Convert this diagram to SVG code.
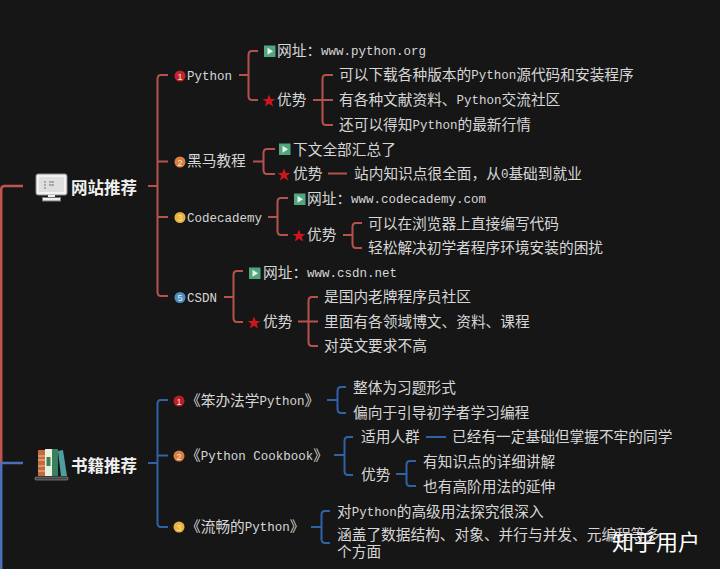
<svg xmlns="http://www.w3.org/2000/svg" width="720" height="569" viewBox="0 0 720 569">
<style>
text{font-family:"Liberation Mono","Noto Sans CJK SC",monospace;font-size:14.7px;fill:#d6d6d6;dominant-baseline:central;transform:translateY(1px)}
.l{font-size:12.5px}
.h{font-family:"Noto Sans CJK SC",sans-serif;font-size:16.5px;font-weight:700;fill:#f0f0f0}
.n{font-family:"Liberation Sans",sans-serif;font-size:9px;text-anchor:middle;fill:#f4e4d4;transform:none}
.w{font-family:"Noto Sans CJK SC",sans-serif;font-size:22px;fill:#fff;transform:none}
.r,.b,.tr,.tb{fill:none;stroke-width:2}
.r{stroke:#b5524d}.b{stroke:#2f63a8}
.tr{stroke:#c2544f;stroke-width:2.500}.tb{stroke:#4a70b8;stroke-width:2.500}
.sq{fill:#4fa67f}.tri{fill:#e8f4ea}.star{fill:#cc161c}
</style>
<defs>
<g id="link"><rect class="sq" x="0" y="0" width="11.500" height="11.500"/><path class="tri" d="M3.500 2.200L9 5.800L3.500 9.300Z"/></g>
<path id="st" class="star" d="M0-6.500L1.800-2.100H6.500L2.700 .8L4.200 5.600L0 2.800L-4.200 5.600L-2.700 .8L-6.500-2.100H-1.800Z"/>
</defs>
<rect width="720" height="569" fill="#161616"/>
<g id="connectors">
<path class="tr" d="M23 186H4Q1.200 186 1.200 190V463"/>
<path class="tb" d="M1.200 463V569M1.200 463H23" />
<path class="r" d="M148 186H157M168 75H161Q157.500 75 157.500 79V292Q157.500 296 161 296H168M157.500 161.500H168M157.500 217H168"/>
<path class="r" d="M239 75H248M258 51H252Q248.500 51 248.500 55V96Q248.500 100 252 100H258"/>
<path class="r" d="M313 100H333M333 75H326Q322.500 75 322.500 79V121Q322.500 125 326 125H333"/>
<path class="r" d="M253 161.500H263M275 149H267Q263.500 149 263.500 153V170Q263.500 174 267 174H275"/>
<path class="r" d="M328 173.500H347"/>
<path class="r" d="M268 217H277M288 198H281Q277.500 198 277.500 202V231Q277.500 235 281 235H288"/>
<path class="r" d="M343 235H352M362 223H356Q352.500 223 352.500 227V244Q352.500 248 356 248H362"/>
<path class="r" d="M224 297H233M243 271H237Q233.500 271 233.500 275V318Q233.500 322 237 322H243"/>
<path class="r" d="M298 321.500H318M318 297H312Q308.500 297 308.500 301V342Q308.500 346 312 346H318"/>
<path class="b" d="M148 463H157M168 400H161Q157.500 400 157.500 404V523Q157.500 527 161 527H168M157.500 455.500H168"/>
<path class="b" d="M327 400H337M346 387H341Q337.500 387 337.500 391V409Q337.500 413 341 413H346"/>
<path class="b" d="M334 455H344M353 437H348Q344.500 437 344.500 441V471Q344.500 475 348 475H353"/>
<path class="b" d="M426 437H446"/>
<path class="b" d="M396 474H406M416 461H410Q406.500 461 406.500 465V482Q406.500 486 410 486H416"/>
<path class="b" d="M311 527H321M330 511H325Q321.500 511 321.500 515V539Q321.500 543 325 543H330"/>
</g>
<g id="n-site">
<rect x="36" y="174" width="31" height="21" rx="2" fill="#f2f2f2" stroke="#8a8a8a"/>
<rect x="39" y="177" width="25" height="15" fill="#dedede"/>
<path d="M44 182h2M44 185h2M44 188h2M49 182h5M49 185h5" stroke="#777" stroke-width="1"/>
<rect x="48" y="195" width="7" height="3" fill="#eee"/>
<rect x="42.500" y="197.500" width="18" height="3.500" fill="#eee" stroke="#777"/>
<text class="h" x="71" y="186">网站推荐</text>
</g>
<g id="n-books">
<rect x="35" y="477" width="33" height="3" rx="1" fill="#444" stroke="#999" stroke-width=".6"/>
<rect x="38" y="450" width="7" height="26" fill="#c56a3e"/>
<path d="M38 456h7M38 460h7M38 466h7M38 471h7" stroke="#e8c59a"/>
<rect x="45" y="449" width="7" height="27" fill="#e9f1df"/>
<rect x="46.500" y="457" width="4" height="9" fill="#3e7f57"/>
<rect x="52" y="449" width="6" height="27" fill="#3a7f5e"/>
<path d="M58 451L63 450L67 476L61 476Z" fill="#4f9ea0"/>
<text class="h" x="71" y="464">书籍推荐</text>
</g>
<g id="n-python"><circle cx="180" cy="76" r="5.500" fill="#c4232b"/><text class="n" x="180" y="76.500">1</text><text class="l" x="187" y="75.500">Python</text></g>
<g id="n-python-url"><use href="#link" x="264" y="45.500"/><text x="277" y="51">网址：<tspan class="l">www.python.org</tspan></text></g>
<g id="n-python-adv"><use href="#st" x="269" y="101"/><text x="277" y="100">优势</text></g>
<g id="n-python-a"><text x="339" y="75">可以下载各种版本的<tspan class="l">Python</tspan>源代码和安装程序</text></g>
<g id="n-python-b"><text x="339" y="100">有各种文献资料、<tspan class="l">Python</tspan>交流社区</text></g>
<g id="n-python-c"><text x="339" y="125">还可以得知<tspan class="l">Python</tspan>的最新行情</text></g>
<g id="n-heima"><circle cx="180" cy="162" r="5.500" fill="#d9803f"/><text class="n" x="180" y="162.500">2</text><text x="187" y="161">黑马教程</text></g>
<g id="n-heima-url"><use href="#link" x="279" y="143.500"/><text x="293" y="150">下文全部汇总了</text></g>
<g id="n-heima-adv"><use href="#st" x="284" y="175"/><text x="293" y="174">优势</text></g>
<g id="n-heima-a"><text x="354" y="174">站内知识点很全面，从<tspan class="l">0</tspan>基础到就业</text></g>
<g id="n-code"><circle cx="180" cy="217.500" r="5.500" fill="#e9b23e"/><text class="n" x="180" y="218" style="fill:#f7e3a8">3</text><text class="l" x="187" y="217.500">Codecademy</text></g>
<g id="n-code-url"><use href="#link" x="294" y="193.500"/><text x="307" y="199">网址：<tspan class="l">www.codecademy.com</tspan></text></g>
<g id="n-code-adv"><use href="#st" x="299" y="236"/><text x="307" y="235">优势</text></g>
<g id="n-code-a"><text x="368" y="224">可以在浏览器上直接编写代码</text></g>
<g id="n-code-b"><text x="368" y="248">轻松解决初学者程序环境安装的困扰</text></g>
<g id="n-csdn"><circle cx="180" cy="297.500" r="5.500" fill="#4a90c4"/><text class="n" x="180" y="298">5</text><text class="l" x="187" y="297.500">CSDN</text></g>
<g id="n-csdn-url"><use href="#link" x="249" y="267.500"/><text x="263" y="273">网址：<tspan class="l">www.csdn.net</tspan></text></g>
<g id="n-csdn-adv"><use href="#st" x="254" y="323"/><text x="263" y="322">优势</text></g>
<g id="n-csdn-a"><text x="324" y="297">是国内老牌程序员社区</text></g>
<g id="n-csdn-b"><text x="324" y="322">里面有各领域博文、资料、课程</text></g>
<g id="n-csdn-c"><text x="324" y="346">对英文要求不高</text></g>
<g id="n-b1"><circle cx="179" cy="401" r="5.500" fill="#b81f27"/><text class="n" x="179" y="401.500">1</text><text x="186" y="401">《笨办法学<tspan class="l">Python</tspan>》</text></g>
<g id="n-b1-a"><text x="353" y="388">整体为习题形式</text></g>
<g id="n-b1-b"><text x="353" y="413">偏向于引导初学者学习编程</text></g>
<g id="n-b2"><circle cx="179" cy="456" r="5.500" fill="#d9803f"/><text class="n" x="179" y="456.500">2</text><text x="186" y="456">《<tspan class="l">Python Cookbook</tspan>》</text></g>
<g id="n-b2-a"><text x="361" y="437">适用人群</text></g>
<g id="n-b2-a1"><text x="452" y="437">已经有一定基础但掌握不牢的同学</text></g>
<g id="n-b2-b"><text x="361" y="475">优势</text></g>
<g id="n-b2-b1"><text x="423" y="462">有知识点的详细讲解</text></g>
<g id="n-b2-b2"><text x="423" y="487">也有高阶用法的延伸</text></g>
<g id="n-b3"><circle cx="179" cy="527" r="5.500" fill="#e9b23e"/><text class="n" x="179" y="527.500" style="fill:#f7e3a8">3</text><text x="186" y="527">《流畅的<tspan class="l">Python</tspan>》</text></g>
<g id="n-b3-a"><text x="337" y="512">对<tspan class="l">Python</tspan>的高级用法探究很深入</text></g>
<g id="n-b3-b"><text x="337" y="535">涵盖了数据结构、对象、并行与并发、元编程等多</text><text x="337" y="552">个方面</text></g>
<text class="w" x="612" y="540">知乎用户</text>
</svg>
